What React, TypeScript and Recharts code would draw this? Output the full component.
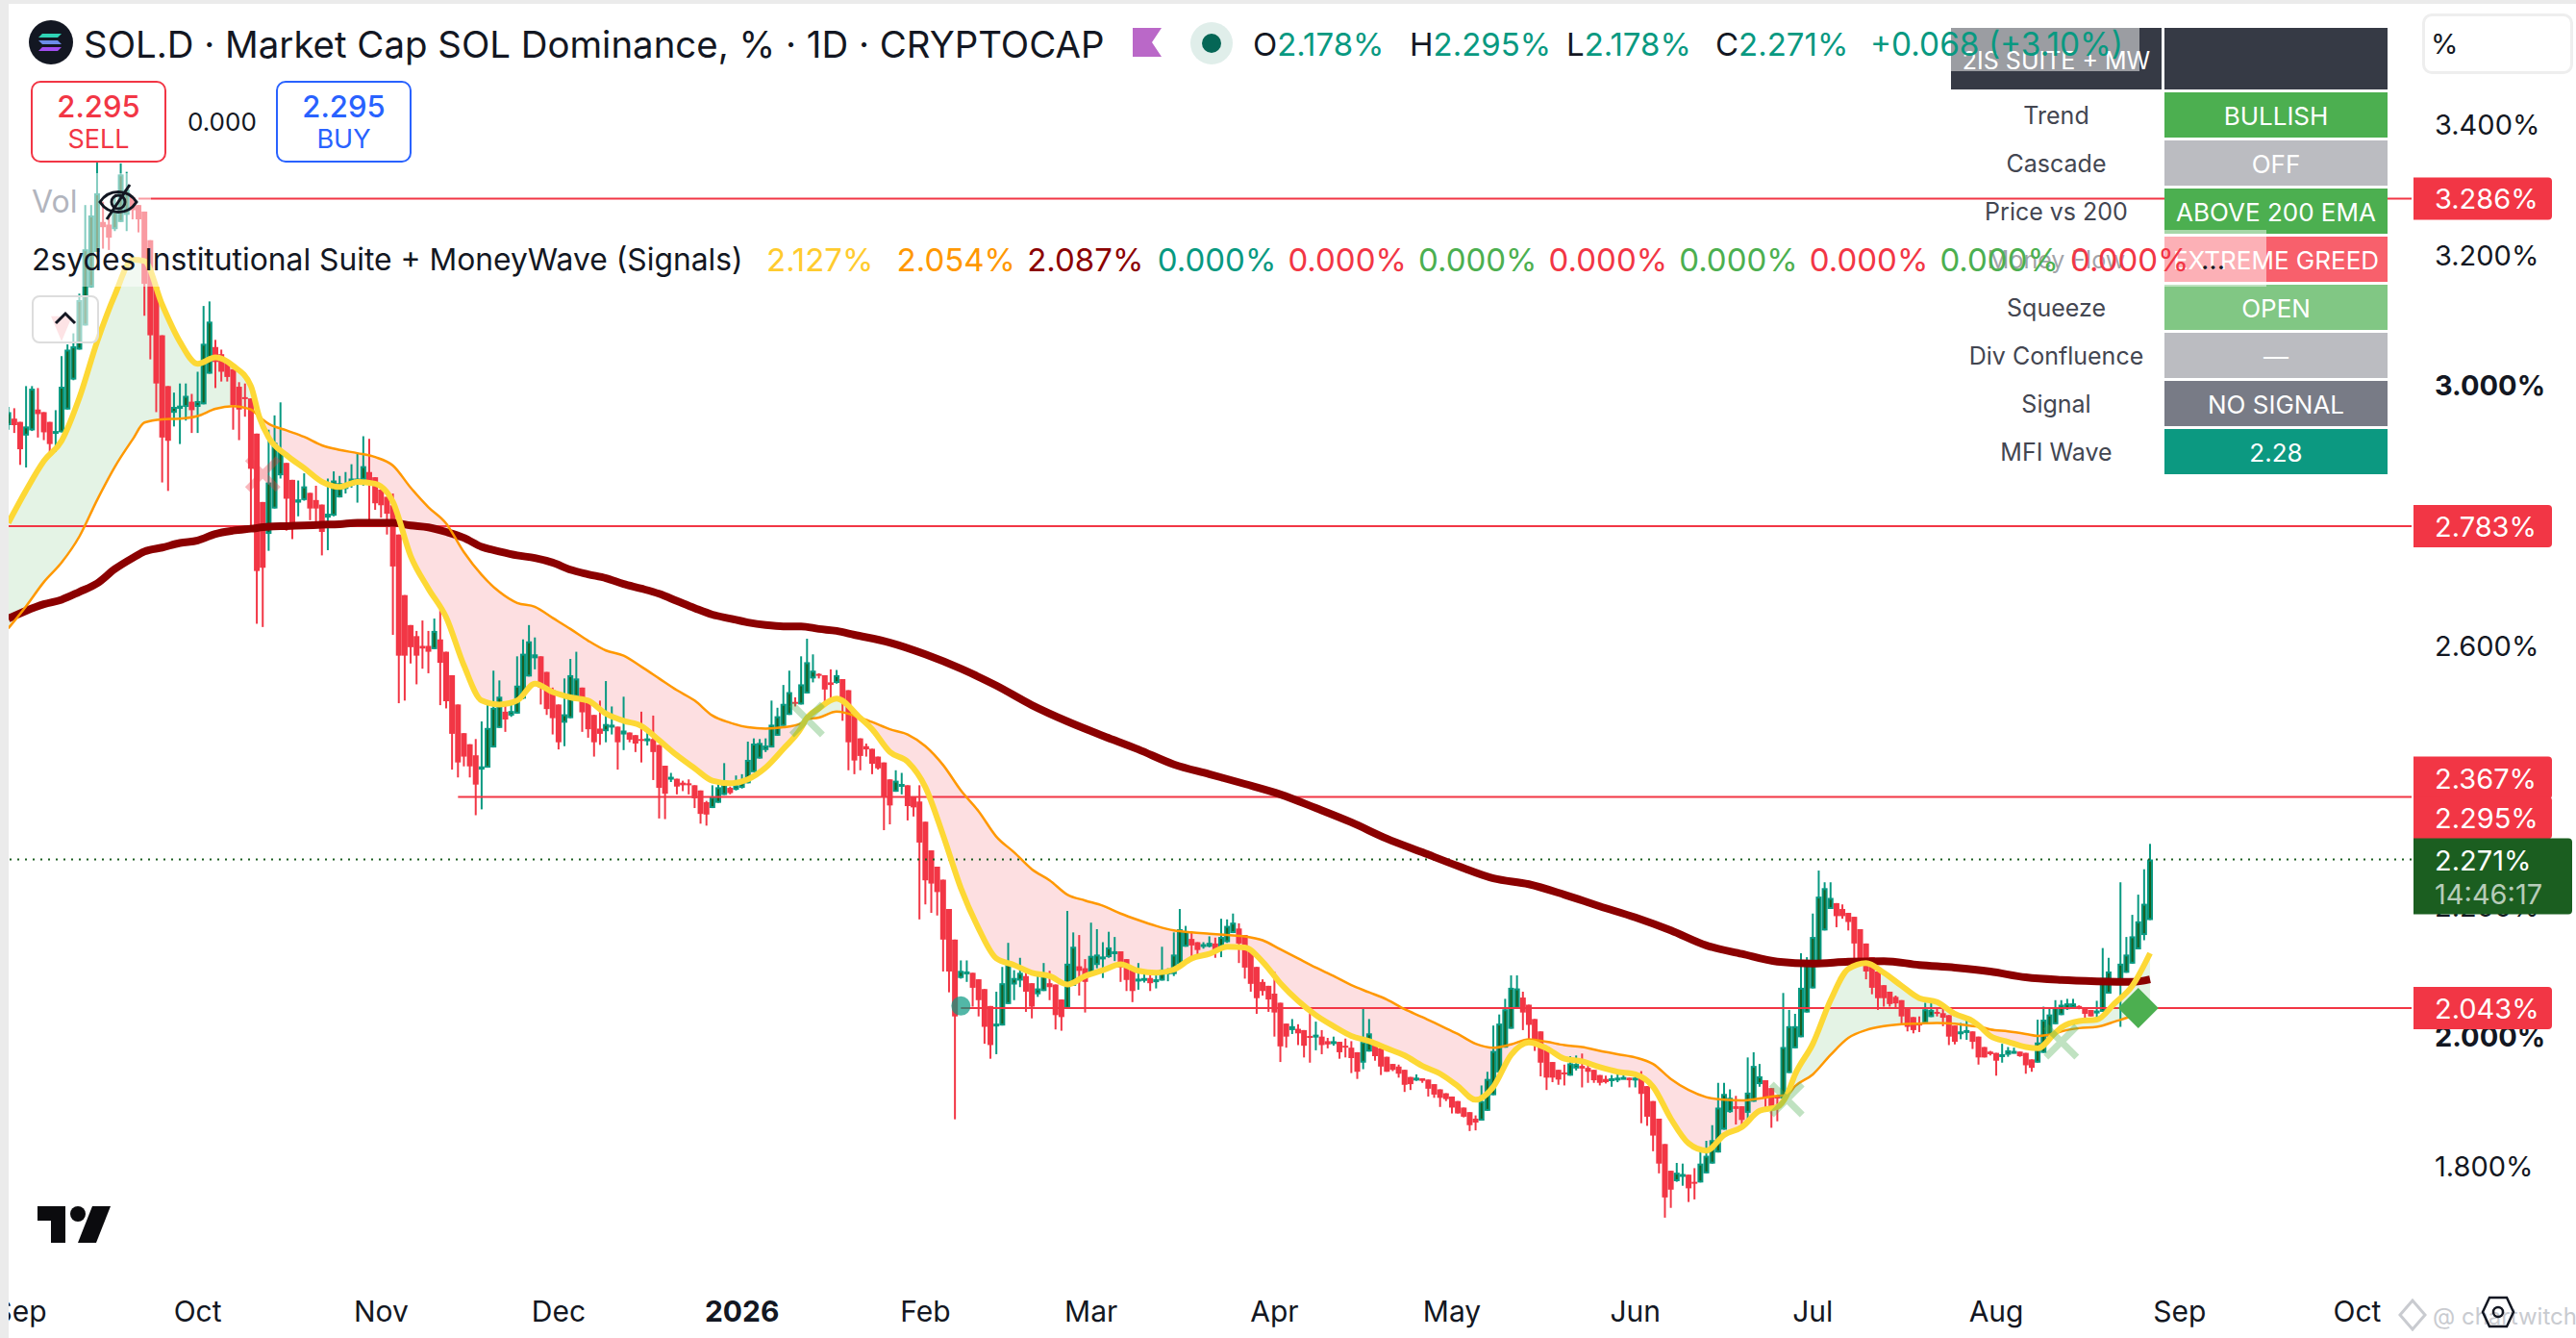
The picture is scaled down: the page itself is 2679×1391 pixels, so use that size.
import { Area, Bar, ComposedChart, Line, ReferenceDot, ReferenceLine, XAxis, YAxis } from 'recharts';
import type { CSSProperties } from 'react';

// daily candles as [open, high, low, close]
const candlesSep = [
  [2.938,2.966,2.931,2.958],[2.948,2.964,2.926,2.938],[2.943,2.943,2.877,2.901],[2.922,2.998,2.873,2.936],
  [2.930,2.998,2.929,2.994],[2.962,2.995,2.919,2.955],[2.958,2.958,2.915,2.927],[2.943,2.943,2.894,2.909],
  [2.927,2.961,2.897,2.929],[2.927,3.044,2.927,2.997],[2.962,3.062,2.962,3.054],[3.008,3.079,3.007,3.059],
  [3.054,3.140,3.054,3.130],[3.091,3.276,3.091,3.208],[3.150,3.276,3.150,3.260],[3.204,3.345,3.204,3.294],
  [3.250,3.281,3.209,3.242],[3.246,3.261,3.207,3.226],[3.239,3.288,3.236,3.266],[3.250,3.340,3.250,3.323],
  [3.261,3.327,3.236,3.300],[3.288,3.290,3.254,3.268],[3.276,3.276,3.234,3.254],[3.266,3.266,3.106,3.155],
  [3.222,3.222,3.039,3.076],[3.150,3.150,2.958,3.002],[3.076,3.076,2.850,2.919],[2.998,2.998,2.837,2.914],
  [2.957,2.988,2.936,2.966],[2.963,3.002,2.909,2.968],[2.966,3.002,2.945,2.983],[2.974,2.986,2.926,2.961],
];
const candlesOct = [
  [2.966,3.020,2.926,2.975],[2.970,3.121,2.970,3.063],[3.017,3.128,3.017,3.097],[3.058,3.069,2.995,3.035],
  [3.047,3.054,3.005,3.020],[3.035,3.037,3.005,3.012],[3.024,3.024,2.931,2.969],[2.997,3.004,2.915,2.962],
  [2.981,3.002,2.951,2.979],[2.979,2.979,2.783,2.871],[2.925,2.925,2.633,2.714],[2.820,2.820,2.628,2.719],
  [2.771,2.931,2.745,2.850],[2.810,2.953,2.810,2.911],[2.861,2.973,2.856,2.899],[2.880,2.880,2.776,2.825],
  [2.854,2.854,2.763,2.787],[2.819,2.853,2.798,2.824],[2.823,2.864,2.822,2.844],[2.834,2.834,2.792,2.810],
  [2.823,2.845,2.785,2.810],[2.816,2.816,2.738,2.774],[2.796,2.856,2.746,2.802],[2.799,2.867,2.798,2.853],
  [2.827,2.860,2.827,2.849],[2.840,2.866,2.833,2.847],[2.845,2.878,2.842,2.856],[2.851,2.895,2.819,2.856],
  [2.854,2.921,2.845,2.875],[2.866,2.917,2.783,2.851],[2.858,2.858,2.808,2.818],
];
const candlesNov = [
  [2.839,2.839,2.796,2.815],[2.828,2.828,2.770,2.802],[2.815,2.833,2.616,2.721],[2.770,2.770,2.511,2.584],
  [2.677,2.677,2.515,2.584],[2.631,2.631,2.572,2.597],[2.614,2.622,2.540,2.584],[2.599,2.638,2.564,2.595],
  [2.599,2.622,2.557,2.590],[2.594,2.641,2.594,2.622],[2.609,2.654,2.508,2.573],[2.590,2.590,2.503,2.514],
  [2.554,2.554,2.409,2.464],[2.509,2.509,2.397,2.420],[2.465,2.465,2.414,2.429],[2.448,2.448,2.397,2.414],
  [2.431,2.456,2.339,2.386],[2.409,2.483,2.348,2.414],[2.412,2.515,2.412,2.473],[2.443,2.561,2.443,2.504],
  [2.473,2.546,2.473,2.521],[2.498,2.509,2.467,2.486],[2.492,2.515,2.490,2.499],[2.495,2.583,2.495,2.538],
  [2.518,2.609,2.517,2.587],[2.552,2.631,2.552,2.606],[2.580,2.612,2.563,2.586],[2.583,2.583,2.509,2.535],
  [2.559,2.559,2.493,2.502],[2.531,2.535,2.463,2.488],
];
const candlesDec = [
  [2.509,2.509,2.440,2.451],[2.481,2.549,2.445,2.494],[2.488,2.579,2.488,2.554],[2.521,2.590,2.514,2.549],
  [2.535,2.535,2.467,2.497],[2.515,2.515,2.458,2.471],[2.493,2.493,2.429,2.451],[2.472,2.515,2.447,2.464],
  [2.468,2.545,2.451,2.479],[2.477,2.506,2.463,2.478],[2.475,2.475,2.409,2.451],[2.463,2.521,2.439,2.469],
  [2.466,2.466,2.451,2.455],[2.462,2.462,2.436,2.449],[2.456,2.498,2.420,2.454],[2.454,2.465,2.446,2.457],
  [2.456,2.492,2.393,2.436],[2.447,2.447,2.334,2.381],[2.415,2.415,2.333,2.372],[2.396,2.404,2.390,2.398],
  [2.395,2.395,2.371,2.383],[2.389,2.392,2.376,2.385],[2.388,2.394,2.371,2.385],[2.385,2.385,2.350,2.365],
  [2.377,2.377,2.326,2.341],[2.359,2.361,2.323,2.340],[2.350,2.385,2.350,2.367],[2.358,2.392,2.358,2.382],
  [2.370,2.419,2.370,2.388],[2.381,2.383,2.371,2.373],[2.378,2.400,2.377,2.385],
];
const candlesJan = [
  [2.381,2.402,2.380,2.393],[2.388,2.452,2.388,2.424],[2.405,2.457,2.405,2.449],[2.426,2.456,2.426,2.450],
  [2.439,2.457,2.436,2.446],[2.443,2.515,2.443,2.478],[2.461,2.504,2.461,2.491],[2.476,2.539,2.476,2.510],
  [2.493,2.561,2.493,2.528],[2.513,2.520,2.506,2.510],[2.509,2.583,2.509,2.540],[2.526,2.610,2.526,2.574],
  [2.549,2.586,2.543,2.561],[2.556,2.557,2.549,2.554],[2.554,2.554,2.510,2.532],[2.543,2.563,2.513,2.539],
  [2.542,2.562,2.541,2.554],[2.548,2.548,2.484,2.515],[2.531,2.531,2.408,2.451],[2.492,2.492,2.402,2.423],
  [2.457,2.457,2.408,2.430],[2.445,2.449,2.429,2.440],[2.441,2.441,2.402,2.418],[2.429,2.429,2.409,2.411],
  [2.420,2.420,2.316,2.367],[2.394,2.394,2.325,2.354],[2.375,2.408,2.375,2.392],[2.384,2.404,2.371,2.387],
  [2.385,2.385,2.331,2.353],[2.367,2.367,2.337,2.351],[2.360,2.385,2.179,2.297],
];
const candlesFeb = [
  [2.329,2.329,2.202,2.239],[2.285,2.285,2.189,2.234],[2.260,2.260,2.185,2.221],[2.240,2.240,2.099,2.148],
  [2.195,2.195,2.067,2.099],[2.148,2.148,1.872,2.030],[2.089,2.116,2.088,2.100],[2.096,2.116,2.083,2.099],
  [2.097,2.097,2.045,2.074],[2.087,2.087,2.030,2.055],[2.072,2.072,1.988,2.014],[2.046,2.046,1.965,1.986],
  [2.017,2.068,1.972,2.019],[2.016,2.106,2.016,2.081],[2.049,2.143,2.049,2.111],[2.079,2.101,2.055,2.089],
  [2.085,2.120,2.075,2.097],[2.092,2.099,2.037,2.068],[2.081,2.081,2.027,2.045],[2.064,2.092,2.060,2.073],
  [2.069,2.112,2.069,2.094],[2.081,2.100,2.055,2.075],[2.079,2.079,2.010,2.032],[2.056,2.056,2.008,2.029],
  [2.042,2.192,2.042,2.111],[2.077,2.159,2.077,2.137],[2.107,2.155,2.062,2.100],[2.104,2.118,2.036,2.083],
];
const candlesMar = [
  [2.094,2.174,2.094,2.123],[2.109,2.164,2.104,2.125],[2.120,2.144,2.089,2.122],[2.121,2.160,2.120,2.136],
  [2.129,2.152,2.115,2.130],[2.130,2.130,2.083,2.105],[2.118,2.118,2.069,2.086],[2.101,2.101,2.052,2.069],
  [2.087,2.112,2.071,2.088],[2.088,2.101,2.082,2.089],[2.089,2.094,2.069,2.081],[2.085,2.097,2.073,2.087],
  [2.085,2.137,2.085,2.102],[2.097,2.104,2.084,2.099],[2.095,2.159,2.092,2.125],[2.110,2.195,2.110,2.164],
  [2.137,2.169,2.137,2.161],[2.149,2.159,2.115,2.139],[2.144,2.144,2.124,2.132],[2.139,2.144,2.134,2.141],
  [2.137,2.153,2.136,2.143],[2.142,2.151,2.120,2.133],[2.137,2.180,2.121,2.152],[2.144,2.179,2.143,2.169],
  [2.158,2.188,2.158,2.174],[2.165,2.173,2.112,2.142],[2.155,2.155,2.088,2.105],[2.130,2.130,2.068,2.080],
  [2.106,2.106,2.034,2.058],[2.083,2.087,2.062,2.069],[2.077,2.077,2.037,2.056],
];
const candlesApr = [
  [2.065,2.099,1.999,2.036],[2.051,2.051,1.960,1.984],[2.019,2.019,1.982,1.999],[2.009,2.026,2.003,2.015],
  [2.011,2.018,1.986,2.004],[2.009,2.009,1.967,1.985],[2.000,2.035,1.959,1.998],[2.001,2.022,1.978,2.002],
  [1.999,2.009,1.972,1.986],[1.992,1.997,1.981,1.987],[1.991,1.999,1.985,1.992],[1.991,1.991,1.965,1.975],
  [1.985,1.996,1.967,1.984],[1.982,1.992,1.943,1.966],[1.975,1.975,1.934,1.945],[1.959,2.044,1.949,1.991],
  [1.976,2.026,1.976,2.004],[1.990,1.990,1.962,1.969],[1.981,1.981,1.940,1.953],[1.968,1.968,1.945,1.945],
  [1.957,1.957,1.946,1.948],[1.953,1.956,1.936,1.942],[1.948,1.948,1.914,1.925],[1.937,1.937,1.917,1.926],
  [1.932,1.941,1.931,1.936],[1.935,1.935,1.928,1.931],[1.933,1.933,1.907,1.919],[1.926,1.926,1.905,1.910],
  [1.918,1.918,1.891,1.905],[1.912,1.912,1.900,1.903],
];
const candlesMay = [
  [1.907,1.907,1.881,1.890],[1.900,1.900,1.881,1.881],[1.890,1.890,1.875,1.876],[1.883,1.883,1.854,1.863],
  [1.873,1.878,1.855,1.867],[1.870,1.924,1.870,1.900],[1.885,1.945,1.885,1.934],[1.909,2.016,1.909,1.977],
  [1.944,2.033,1.944,2.019],[1.982,2.057,1.982,2.041],[2.011,2.093,2.011,2.074],[2.042,2.093,2.042,2.073],
  [2.059,2.068,2.009,2.036],[2.048,2.048,1.987,2.017],[2.026,2.026,1.977,1.987],[2.007,2.007,1.938,1.959],
  [1.983,1.983,1.917,1.936],[1.960,1.960,1.929,1.936],[1.948,1.948,1.925,1.933],[1.944,1.956,1.924,1.942],
  [1.939,1.969,1.939,1.958],[1.950,1.970,1.947,1.957],[1.954,1.973,1.921,1.950],[1.951,1.961,1.928,1.945],
  [1.948,1.948,1.928,1.932],[1.940,1.940,1.924,1.928],[1.934,1.939,1.927,1.929],[1.933,1.940,1.922,1.935],
  [1.932,1.942,1.929,1.936],[1.935,1.944,1.934,1.937],[1.936,1.936,1.921,1.932],
];
const candlesJun = [
  [1.935,1.945,1.921,1.936],[1.935,1.946,1.866,1.911],[1.923,1.923,1.862,1.876],[1.900,1.900,1.823,1.847],
  [1.873,1.873,1.789,1.804],[1.834,1.834,1.721,1.752],[1.793,1.793,1.736,1.764],[1.777,1.805,1.776,1.790],
  [1.786,1.804,1.770,1.788],[1.787,1.787,1.745,1.766],[1.776,1.797,1.749,1.774],[1.775,1.824,1.775,1.804],
  [1.789,1.839,1.789,1.816],[1.804,1.863,1.804,1.840],[1.821,1.928,1.821,1.890],[1.856,1.928,1.856,1.911],
  [1.883,1.918,1.882,1.905],[1.892,1.908,1.864,1.888],[1.892,1.892,1.858,1.871],[1.882,1.967,1.873,1.913],
  [1.899,1.975,1.899,1.954],[1.926,1.957,1.922,1.938],[1.932,1.932,1.884,1.905],[1.920,1.920,1.859,1.890],
  [1.907,1.909,1.869,1.904],[1.904,2.066,1.904,1.983],[1.943,2.040,1.943,2.015],[1.981,2.034,1.981,2.015],
  [1.998,2.127,1.998,2.074],[2.036,2.121,2.036,2.111],
];
const candlesJul = [
  [2.073,2.188,2.073,2.152],[2.112,2.254,2.112,2.214],[2.162,2.236,2.162,2.227],[2.195,2.236,2.195,2.212],
  [2.204,2.204,2.167,2.184],[2.195,2.202,2.180,2.184],[2.189,2.189,2.162,2.175],[2.183,2.183,2.111,2.142],
  [2.164,2.164,2.111,2.119],[2.142,2.142,2.087,2.099],[2.121,2.121,2.064,2.074],[2.099,2.099,2.040,2.058],
  [2.078,2.078,2.045,2.058],[2.068,2.068,2.045,2.049],[2.060,2.062,2.042,2.050],[2.055,2.055,2.018,2.030],
  [2.044,2.044,2.007,2.014],[2.029,2.029,2.004,2.009],[2.019,2.030,2.006,2.018],[2.019,2.051,2.019,2.041],
  [2.029,2.052,2.029,2.040],[2.037,2.042,2.030,2.036],[2.035,2.044,2.015,2.028],[2.032,2.032,1.986,1.999],
  [2.016,2.016,1.987,1.991],[2.004,2.020,1.995,2.007],[2.005,2.026,1.994,2.009],[2.007,2.007,1.980,1.991],
  [1.999,1.999,1.956,1.967],[1.983,1.983,1.967,1.967],[1.976,1.977,1.970,1.972],
];
const candlesAug = [
  [1.974,1.974,1.939,1.962],[1.971,1.988,1.959,1.972],[1.971,1.983,1.968,1.978],[1.975,1.982,1.973,1.977],
  [1.976,1.976,1.968,1.969],[1.974,1.974,1.942,1.955],[1.964,1.964,1.945,1.951],[1.959,2.025,1.959,1.990],
  [1.974,2.045,1.974,2.025],[1.999,2.043,1.999,2.033],[2.018,2.055,2.018,2.044],[2.032,2.055,2.032,2.048],
  [2.041,2.057,2.040,2.050],[2.043,2.057,2.042,2.050],[2.046,2.047,2.041,2.043],[2.044,2.044,2.026,2.034],
  [2.040,2.040,2.030,2.030],[2.035,2.054,2.027,2.039],[2.037,2.135,2.037,2.089],[2.065,2.120,2.065,2.099],
  [2.081,2.084,2.080,2.083],[2.082,2.236,2.014,2.111],[2.097,2.152,2.097,2.125],[2.111,2.186,2.111,2.153],
  [2.133,2.217,2.133,2.176],[2.155,2.256,2.147,2.203],[2.178,2.295,2.178,2.271],
];

// days are counted from the first candle on screen; fractions are where the two averages cross
const emaDays = [
  0,3,6,9,12,15,18,21,23,26,29,32,35,38,41,42.4,44,47,50,53,56,59,62,65,68,71,74,77,80,83,86,89,92,
  95,98,101,104,107,110,113,116,119,122,125,128,131,134,134.8,137,140,143.9,146,149,152,155,158,161,164,167,170,
  173,176,179,182,185,188,191,194,197,200,203,206,209,212,215,218,221,224,227,230,233,236,239,242,245,248,251,254,
  257,260,263,266,269,272,275,278,281,284,287,290,293,296,299,300.6,302,305,308,311,314,317,320,323,326,329,332,
  333.3,335,338,341,343,345.9,347,350,353,356,359,362,
];
const fastEma = [
  2.788,2.838,2.883,2.914,2.980,3.066,3.138,3.192,3.190,3.123,3.066,3.032,3.042,3.029,2.998,2.951,2.919,2.892,2.872,2.851,2.843,2.851,2.848,2.820,2.737,2.687,2.643,2.569,2.515,2.509,2.515,2.541,2.528,
  2.520,2.515,2.495,2.484,2.476,2.454,2.431,2.411,2.392,2.388,2.394,2.412,2.441,2.473,2.486,2.503,2.518,2.489,2.471,2.436,2.421,2.382,2.308,2.227,2.165,2.119,2.109,
  2.097,2.092,2.079,2.092,2.101,2.110,2.100,2.097,2.102,2.119,2.126,2.137,2.136,2.114,2.081,2.054,2.032,2.015,2.000,1.992,1.981,1.970,1.954,1.942,1.923,1.902,1.922,1.971,
  1.990,1.981,1.965,1.961,1.952,1.945,1.941,1.922,1.873,1.835,1.824,1.848,1.860,1.885,1.891,1.909,1.941,1.988,2.055,2.103,2.112,2.097,2.077,2.058,2.052,2.034,2.023,
  2.014,2.000,1.991,1.983,1.981,2.004,2.013,2.023,2.025,2.050,2.077,2.127,
];
const slowEma = [
  2.626,2.660,2.697,2.727,2.767,2.823,2.874,2.916,2.942,2.947,2.948,2.952,2.963,2.967,2.962,2.951,2.940,2.930,2.920,2.907,2.900,2.895,2.889,2.876,2.842,2.812,2.787,2.743,2.708,2.682,2.665,2.659,2.642,
  2.625,2.607,2.592,2.584,2.567,2.549,2.531,2.515,2.492,2.481,2.474,2.472,2.474,2.480,2.486,2.489,2.498,2.489,2.482,2.471,2.463,2.445,2.416,2.377,2.345,2.306,2.282,
  2.256,2.239,2.217,2.208,2.200,2.188,2.178,2.169,2.162,2.159,2.157,2.155,2.153,2.147,2.133,2.119,2.105,2.092,2.078,2.067,2.056,2.041,2.029,2.016,2.003,1.988,1.982,1.987,
  1.995,1.991,1.986,1.983,1.977,1.972,1.967,1.957,1.934,1.917,1.906,1.902,1.901,1.904,1.908,1.909,1.923,1.941,1.971,1.997,2.009,2.015,2.018,2.019,2.020,2.019,2.015,
  2.014,2.010,2.007,2.003,2.000,2.004,2.007,2.012,2.014,2.022,2.032,2.054,
];
const trendDays = [
  0,3,6,9,12,15,18,21,23,26,29,32,35,38,41,44,47,50,53,56,59,62,65,68,71,74,77,80,83,86,89,92,95,98,101,104,107,110,113,116,119,122,125,128,131,134,137,140,143,149,155,161,167,173,179,185,
  191,197,203,209,215,221,227,233,239,245,251,257,263,269,275,281,287,293,299,305,311,317,323,329,335,341,347,353,359,362,
];
const trendEma = [
  2.641,2.653,2.663,2.670,2.682,2.695,2.717,2.734,2.744,2.750,2.757,2.761,2.771,2.776,2.779,2.782,2.783,2.784,2.785,2.786,2.788,2.788,2.788,2.784,2.781,2.774,2.765,2.751,2.744,2.738,2.734,2.727,2.716,2.709,2.703,2.694,2.687,2.679,2.668,2.657,2.647,2.641,2.635,2.631,2.629,2.629,2.625,2.622,2.616,2.604,2.586,2.564,2.538,2.508,2.483,2.461,
  2.440,2.417,2.402,2.387,2.371,2.350,2.328,2.303,2.282,2.261,2.242,2.233,2.217,2.199,2.182,2.162,2.139,2.126,2.114,2.111,2.114,2.115,2.109,2.105,2.099,2.090,2.086,2.084,2.083,2.087,
];

const monthDays = [2,32,63,93,124,155,183,214,244,275,305,336,367,397];
const monthLabels = ['Sep','Oct','Nov','Dec','2026','Feb','Mar','Apr','May','Jun','Jul','Aug','Sep','Oct'];
const priceTicks = [1.8,2.0,2.2,2.4,2.6,2.8,3.0,3.2,3.4];
const levelPrices = [3.286,2.783,2.367,2.043];
const levelStartDays = [22,0.05,76,161];
const tagPrices = [3.286,2.783,2.367,2.295,2.043,2.271];
const lastPrice = 2.271;
const countdown = '14:46:17';
const crossDays = [135,300.6,347];
const crossPrices = [2.486,1.9025,1.991];

const tableLabels = ['Trend','Cascade','Price vs 200','Money Flow','Squeeze','Div Confluence','Signal','MFI Wave'];
const tableValues = ['BULLISH','OFF','ABOVE 200 EMA','EXTREME GREED','OPEN','—','NO SIGNAL','2.28'];
const tableColors = ['#4CAF50','#BBBCC1','#4CAF50','#F8606C','#81C784','#BBBCC1','#787B86','#0C9981'];
const legendValues = ['2.127%','2.054%','2.087%','0.000%','0.000%','0.000%','0.000%','0.000%','0.000%','0.000%','0.000%'];
const legendColors = ['#FFCB2E','#FF9800','#8B0000','#089981','#F23645','#4CAF50','#F23645','#4CAF50','#F23645','#4CAF50','#F23645'];

const candleRows = [
  ...candlesSep, ...candlesOct, ...candlesNov, ...candlesDec, ...candlesJan, ...candlesFeb,
  ...candlesMar, ...candlesApr, ...candlesMay, ...candlesJun, ...candlesJul, ...candlesAug,
].map(([open, high, low, close], day) => ({ day, open, high, low, close }));

const emaRows = emaDays.map((day, i) => {
  const fast = fastEma[i];
  const slow = slowEma[i];
  return {
    day,
    fast,
    slow,
    bull: fast >= slow ? [slow, fast] : null,
    bear: fast <= slow ? [fast, slow] : null,
  };
});
const trendRows = trendDays.map((day, i) => ({ day, value: trendEma[i] }));

const FONT = 'Inter, sans-serif';
const TEXT = '#131722';
const RED = '#F23645';
const GREEN = '#089981';
const X_MIN = 0.05;
const X_MAX = 406.2;
const TAG_LEFT = 2510;

function Candle(props: any) {
  const { x, y, width, height, payload } = props;
  const { open, high, low, close } = payload;
  const up = close >= open;
  const color = up ? GREEN : RED;
  const perUnit = height / (high - low || 1);
  const top = y + (high - Math.max(open, close)) * perUnit;
  const bodyH = Math.max(Math.abs(open - close) * perUnit, 1);
  const mid = x + width / 2;
  return (
    <g>
      <line x1={mid} x2={mid} y1={y} y2={y + height} stroke={color} strokeWidth={2} />
      {up ? (
        <rect x={mid - 2} y={top + 1} width={4} height={Math.max(bodyH - 2, 1)} fill="#1B5E20" stroke={color} strokeWidth={2} />
      ) : (
        <rect x={mid - 3} y={top} width={6} height={Math.max(bodyH, 2)} fill={RED} />
      )}
    </g>
  );
}

function MonthTick({ x, y, payload }: any) {
  const label = monthLabels[monthDays.indexOf(payload.value)];
  return (
    <text x={x} y={y + 26} textAnchor="middle" fontFamily={FONT} fontSize={30} fontWeight={label === '2026' ? 700 : 400} fill={TEXT}>
      {label}
    </text>
  );
}

function PriceTick({ y, payload }: any) {
  const bold = payload.value === 2 || payload.value === 3;
  return (
    <text x={2532} y={y + 11} fontFamily={FONT} fontSize={29} fontWeight={bold ? 700 : 400} fill={TEXT}>
      {payload.value.toFixed(3)}%
    </text>
  );
}

// the two high tags are pushed up by the collision handling of the original chart
const tagShift: Record<number, number> = { 2.367: -20, 2.295: -27 };

function PriceTag({ y, payload }: any) {
  const value = payload.value;
  const cy = y + (tagShift[value] || 0);
  if (value === lastPrice) {
    return (
      <g fontFamily={FONT} fontSize={29}>
        <path d={`M${TAG_LEFT} ${cy - 22}H2671a4 4 0 0 1 4 4V${cy + 53}a4 4 0 0 1 -4 4H${TAG_LEFT}z`} fill="#1B5E20" />
        <text x={2532} y={cy + 11} fill="#fff">{value.toFixed(3)}%</text>
        <text x={2532} y={cy + 46} fill="#fff" fillOpacity={0.7}>{countdown}</text>
      </g>
    );
  }
  return (
    <g fontFamily={FONT} fontSize={29}>
      <path d={`M${TAG_LEFT} ${cy - 22}H2650a4 4 0 0 1 4 4V${cy + 18}a4 4 0 0 1 -4 4H${TAG_LEFT}z`} fill={RED} />
      <text x={2532} y={cy + 11} fill="#fff">{value.toFixed(3)}%</text>
    </g>
  );
}

const CrossMark = ({ cx, cy, color }: any) => (
  <path d={`M${cx - 16} ${cy - 16}L${cx + 16} ${cy + 16}M${cx + 16} ${cy - 16}L${cx - 16} ${cy + 16}`} stroke={color} strokeWidth={7} opacity={0.35} />
);
const Diamond = ({ cx, cy }: any) => (
  <path d={`M${cx} ${cy - 21}L${cx + 21} ${cy}L${cx} ${cy + 21}L${cx - 21} ${cy}z`} fill="#4CAF50" />
);
const BuyDot = ({ cx, cy }: any) => <circle cx={cx} cy={cy} r={10} fill={GREEN} fillOpacity={0.7} />;
const DownTriangle = ({ cx, cy }: any) => (
  <path d={`M${cx - 11} ${cy - 13}H${cx + 11}L${cx} ${cy + 13}z`} fill={RED} fillOpacity={0.35} />
);

const abs = (left: number, top: number, extra?: CSSProperties): CSSProperties => ({
  position: 'absolute',
  left,
  top,
  fontFamily: FONT,
  whiteSpace: 'nowrap',
  ...extra,
});

function Header() {
  const ohlc = [
    ['O', '2.178%', 1303],
    ['H', '2.295%', 1466],
    ['L', '2.178%', 1629],
    ['C', '2.271%', 1784],
  ] as const;
  return (
    <>
      <svg width={46} height={46} style={abs(30, 21)} viewBox="0 0 46 46">
        <circle cx={23} cy={23} r={23} fill="#131722" />
        <path d="M14 14h20l-4 4H10z" fill="#2FD3B5" />
        <path d="M10 21h20l4 4H14z" fill="#6C8CE8" />
        <path d="M14 28h20l-4 4H10z" fill="#A14DF0" />
      </svg>
      <div style={abs(87, 23, { fontSize: 38.4, color: TEXT, lineHeight: '46px' })}>SOL.D · Market Cap SOL Dominance, % · 1D · CRYPTOCAP</div>
      <svg width={30} height={30} style={abs(1178, 29)} viewBox="0 0 30 30">
        <path d="M0 0H30L20 15L30 30H0z" fill="#BA68C8" />
      </svg>
      <svg width={44} height={44} style={abs(1238, 23)} viewBox="0 0 44 44">
        <circle cx={22} cy={22} r={22} fill="#E0EEEA" />
        <circle cx={22} cy={22} r={10} fill="#056656" />
      </svg>
      {/* table sits under the legend, the legend strip washes it out */}
      <div style={abs(2029, 29, { width: 219, height: 64, background: '#363A45', color: '#fff', fontSize: 25, textAlign: 'center', lineHeight: '68px' })}>2IS SUITE + MW</div>
      <div style={abs(2251, 29, { width: 232, height: 64, background: '#363A45' })} />
      {tableLabels.map((label, i) => (
        <div key={label}>
          <div style={abs(2029, 96 + i * 50, { width: 219, height: 47, color: '#434651', fontSize: 25, textAlign: 'center', lineHeight: '49px' })}>{label}</div>
          <div style={abs(2251, 96 + i * 50, { width: 232, height: 47, background: tableColors[i], color: '#fff', fontSize: 26, textAlign: 'center', lineHeight: '49px' })}>{tableValues[i]}</div>
        </div>
      ))}
      <div style={abs(1290, 29, { width: 935, height: 45, background: 'rgba(255,255,255,0.5)' })} />
      {ohlc.map(([k, v, left]) => (
        <div key={k} style={abs(left, 26, { fontSize: 33, lineHeight: '40px', color: TEXT })}>
          {k}<span style={{ color: GREEN }}>{v}</span>
        </div>
      ))}
      <div style={abs(1945, 26, { fontSize: 33.4, lineHeight: '40px', color: GREEN })}>+0.068 (+3.10%)</div>

      <div style={abs(32, 84, { width: 141, height: 85, boxSizing: 'border-box', border: `2px solid ${RED}`, borderRadius: 10, background: '#fff', color: RED, textAlign: 'center' })}>
        <div style={{ fontSize: 31, fontWeight: 500, lineHeight: '26px', marginTop: 12 }}>2.295</div>
        <div style={{ fontSize: 27, lineHeight: '34px', marginTop: 4 }}>SELL</div>
      </div>
      <div style={abs(195, 112, { fontSize: 26, lineHeight: '30px', color: TEXT })}>0.000</div>
      <div style={abs(287, 84, { width: 141, height: 85, boxSizing: 'border-box', border: '2px solid #2962FF', borderRadius: 10, background: '#fff', color: '#2962FF', textAlign: 'center' })}>
        <div style={{ fontSize: 31, fontWeight: 500, lineHeight: '26px', marginTop: 12 }}>2.295</div>
        <div style={{ fontSize: 27, lineHeight: '34px', marginTop: 4 }}>BUY</div>
      </div>

      <div style={abs(24, 180, { width: 133, height: 59, background: 'rgba(255,255,255,0.5)' })} />
      <div style={abs(33, 188, { fontSize: 32, lineHeight: '44px', color: '#B2B5BE' })}>Vol</div>
      <svg width={44} height={44} style={abs(101, 188)} viewBox="0 0 44 44" fill="none" stroke="#131722" strokeWidth={3}>
        <path d="M3 22C12 8 32 8 41 22C32 36 12 36 3 22z" />
        <circle cx={22} cy={22} r={7} />
        <path d="M34 4L10 40" />
      </svg>

      <div style={abs(24, 239, { width: 2333, height: 59, background: 'rgba(255,255,255,0.5)' })} />
      <div style={abs(33, 248, { fontSize: 31.8, lineHeight: '44px', color: TEXT })}>2sydes Institutional Suite + MoneyWave (Signals)</div>
      {legendValues.map((v, i) => (
        <div key={i} style={abs(797 + i * 135.6, 248, { fontSize: 33, lineHeight: '44px', color: legendColors[i] })}>{v}</div>
      ))}
      <div style={abs(2289, 248, { fontSize: 29, lineHeight: '44px', color: TEXT })}>...</div>

      <div style={abs(33, 307, { width: 70, height: 50, boxSizing: 'border-box', border: '2px solid #DDD', borderRadius: 8, background: 'rgba(255,255,255,0.6)' })}>
        <svg width={26} height={16} style={{ position: 'absolute', left: 20, top: 14 }} viewBox="0 0 26 16" fill="none" stroke="#131722" strokeWidth={3}>
          <path d="M3 13L13 3L23 13" />
        </svg>
      </div>

      <div style={abs(2519, 14, { width: 157, height: 63, boxSizing: 'border-box', border: '3px solid #EEE', borderRadius: 10, background: '#fff', color: TEXT, fontSize: 29, lineHeight: '57px', paddingLeft: 6 })}>%</div>

      <svg width={76} height={38} style={abs(39, 1254)} viewBox="0 0 76 38" fill="#0B0B0E">
        <path d="M0 0H29V38H14V15H0z" />
        <circle cx={42} cy={8} r={8} />
        <path d="M42 38L57 0H76L61 38z" />
      </svg>

      <svg width={30} height={34} style={abs(2494, 1350)} viewBox="0 0 30 34" fill="none" stroke="#C9CBD0" strokeWidth={3}>
        <path d="M15 2L28 17L15 32L2 17z" />
      </svg>
      <div style={abs(2530, 1352, { fontSize: 24, lineHeight: '34px', color: '#C9CBD0' })}>@ chartwitch</div>
      <svg width={36} height={36} style={abs(2580, 1346)} viewBox="0 0 36 36" fill="none" stroke="#131722" strokeWidth={2.5}>
        <path d="M9 3H27L34 18L27 33H9L2 18z" />
        <circle cx={18} cy={18} r={5} />
      </svg>

      <div style={abs(0, 0, { width: 2679, height: 4, background: '#EBEBEB' })} />
      <div style={abs(0, 0, { width: 9, height: 1391, background: '#EBEBEB' })} />
    </>
  );
}

export default function App() {
  return (
    <div style={{ position: 'absolute', left: 0, top: 0, width: 2679, height: 1391, background: '#fff', overflow: 'hidden' }}>
      <ComposedChart width={2679} height={1391} data={candleRows} margin={{ top: 9, right: 0, bottom: 0, left: 9 }}>
        <XAxis
          dataKey="day"
          type="number"
          domain={[X_MIN, X_MAX]}
          allowDataOverflow
          ticks={monthDays}
          interval={0}
          height={51}
          axisLine={false}
          tickLine={false}
          tick={<MonthTick />}
        />
        <YAxis
          yAxisId="price"
          orientation="right"
          width={170}
          domain={[1.6115, 3.5776]}
          allowDataOverflow
          ticks={priceTicks}
          interval={0}
          axisLine={false}
          tickLine={false}
          tick={<PriceTick />}
        />
        <YAxis
          yAxisId="tags"
          orientation="right"
          width={1}
          domain={[1.6115, 3.5776]}
          allowDataOverflow
          ticks={tagPrices}
          interval={0}
          axisLine={false}
          tickLine={false}
          tick={<PriceTag />}
        />
        {levelPrices.map((price, i) => (
          <ReferenceLine
            key={price}
            yAxisId="price"
            segment={[{ x: levelStartDays[i], y: price }, { x: X_MAX, y: price }]}
            stroke={RED}
            strokeWidth={2}
          />
        ))}
        <ReferenceLine yAxisId="price" y={lastPrice} stroke="#1B5E20" strokeWidth={2} strokeDasharray="2 6" />
        <Area yAxisId="price" data={emaRows} dataKey="bull" type="monotone" stroke="none" fill="#4CAF50" fillOpacity={0.15} dot={false} activeDot={false} isAnimationActive={false} />
        <Area yAxisId="price" data={emaRows} dataKey="bear" type="monotone" stroke="none" fill={RED} fillOpacity={0.16} dot={false} activeDot={false} isAnimationActive={false} />
        <Line yAxisId="price" data={trendRows} dataKey="value" type="monotone" stroke="#8B0000" strokeWidth={8} dot={false} activeDot={false} isAnimationActive={false} />
        <Line yAxisId="price" data={emaRows} dataKey="slow" type="monotone" stroke="#FF9800" strokeWidth={2.5} dot={false} activeDot={false} isAnimationActive={false} />
        <Line yAxisId="price" data={emaRows} dataKey="fast" type="monotone" stroke="#FDD835" strokeWidth={6} dot={false} activeDot={false} isAnimationActive={false} />
        <Bar yAxisId="price" dataKey={(d: any) => [d.low, d.high]} barSize={6} shape={<Candle />} isAnimationActive={false} />
        {crossDays.map((day, i) => (
          <ReferenceDot key={day} yAxisId="price" x={day} y={crossPrices[i]} shape={(p: any) => <CrossMark {...p} color="#4CAF50" />} />
        ))}
        <ReferenceDot yAxisId="price" x={43} y={2.863} shape={(p: any) => <CrossMark {...p} color={RED} />} />
        <ReferenceDot yAxisId="price" x={9} y={3.086} shape={(p: any) => <DownTriangle {...p} />} />
        <ReferenceDot yAxisId="price" x={161} y={2.046} shape={(p: any) => <BuyDot {...p} />} />
        <ReferenceDot yAxisId="price" x={360} y={2.043} shape={(p: any) => <Diamond {...p} />} />
      </ComposedChart>
      <Header />
    </div>
  );
}
